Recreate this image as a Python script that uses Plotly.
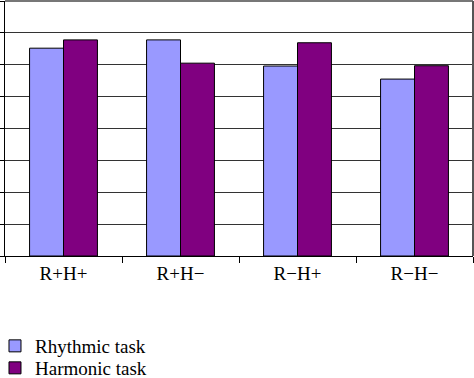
import plotly.graph_objects as go

categories = ["R+H+", "R+H\u2212", "R\u2212H+", "R\u2212H\u2212"]
rhythmic = [6.52, 6.78, 5.96, 5.55]
harmonic = [6.78, 6.05, 6.69, 5.97]
y_ticks = [0, 1, 2, 3, 4, 5, 6, 7, 8]

font = "Liberation Serif"

fig = go.Figure()
fig.add_trace(go.Bar(x=categories, y=rhythmic, name="Rhythmic task",
                     marker=dict(color="#9999FF", line=dict(color="#000000", width=1)),
                     legend="legend"))
fig.add_trace(go.Bar(x=categories, y=harmonic, name="Harmonic task",
                     marker=dict(color="#800080", line=dict(color="#000000", width=1)),
                     legend="legend2"))

leg_common = dict(xref="paper", yref="paper", xanchor="left", yanchor="middle",
                  font=dict(size=19, family=font, color="#000000"),
                  bgcolor="rgba(0,0,0,0)", borderwidth=0)

fig.update_layout(
    width=474, height=378,
    margin=dict(l=5, r=1, t=1, b=122, autoexpand=False),
    paper_bgcolor="white", plot_bgcolor="white",
    barmode="group", bargap=0.42, bargroupgap=0,
    font=dict(family=font, size=19, color="#000000"),
    showlegend=True,
    legend=dict(x=-0.0214, y=(256 - 346) / 255, **leg_common),
    legend2=dict(x=-0.0214, y=(256 - 368) / 255, **leg_common),
    xaxis=dict(showgrid=False, showline=True, linecolor="#000000", linewidth=1,
               ticks="outside", tickson="boundaries", ticklen=6, tickcolor="#000000",
               tickfont=dict(size=19, family=font), automargin=False),
    yaxis=dict(range=[0, 8], tickvals=y_ticks, showticklabels=False,
               showgrid=True, gridcolor="#333333", gridwidth=1,
               showline=True, linecolor="#000000", linewidth=1,
               ticks="outside", ticklen=5, tickcolor="#000000", zeroline=False,
               automargin=False),
)
fig.add_shape(type="line", xref="paper", yref="paper", x0=0, x1=1, y0=1, y1=1,
              line=dict(color="#777777", width=2))
fig.add_shape(type="line", xref="paper", yref="paper", x0=1, x1=1, y0=0, y1=1,
              line=dict(color="#555555", width=2))

fig.write_html("out.html", config={"displayModeBar": False},
               post_script="document.body.style.margin='0';document.body.style.overflow='hidden';")
